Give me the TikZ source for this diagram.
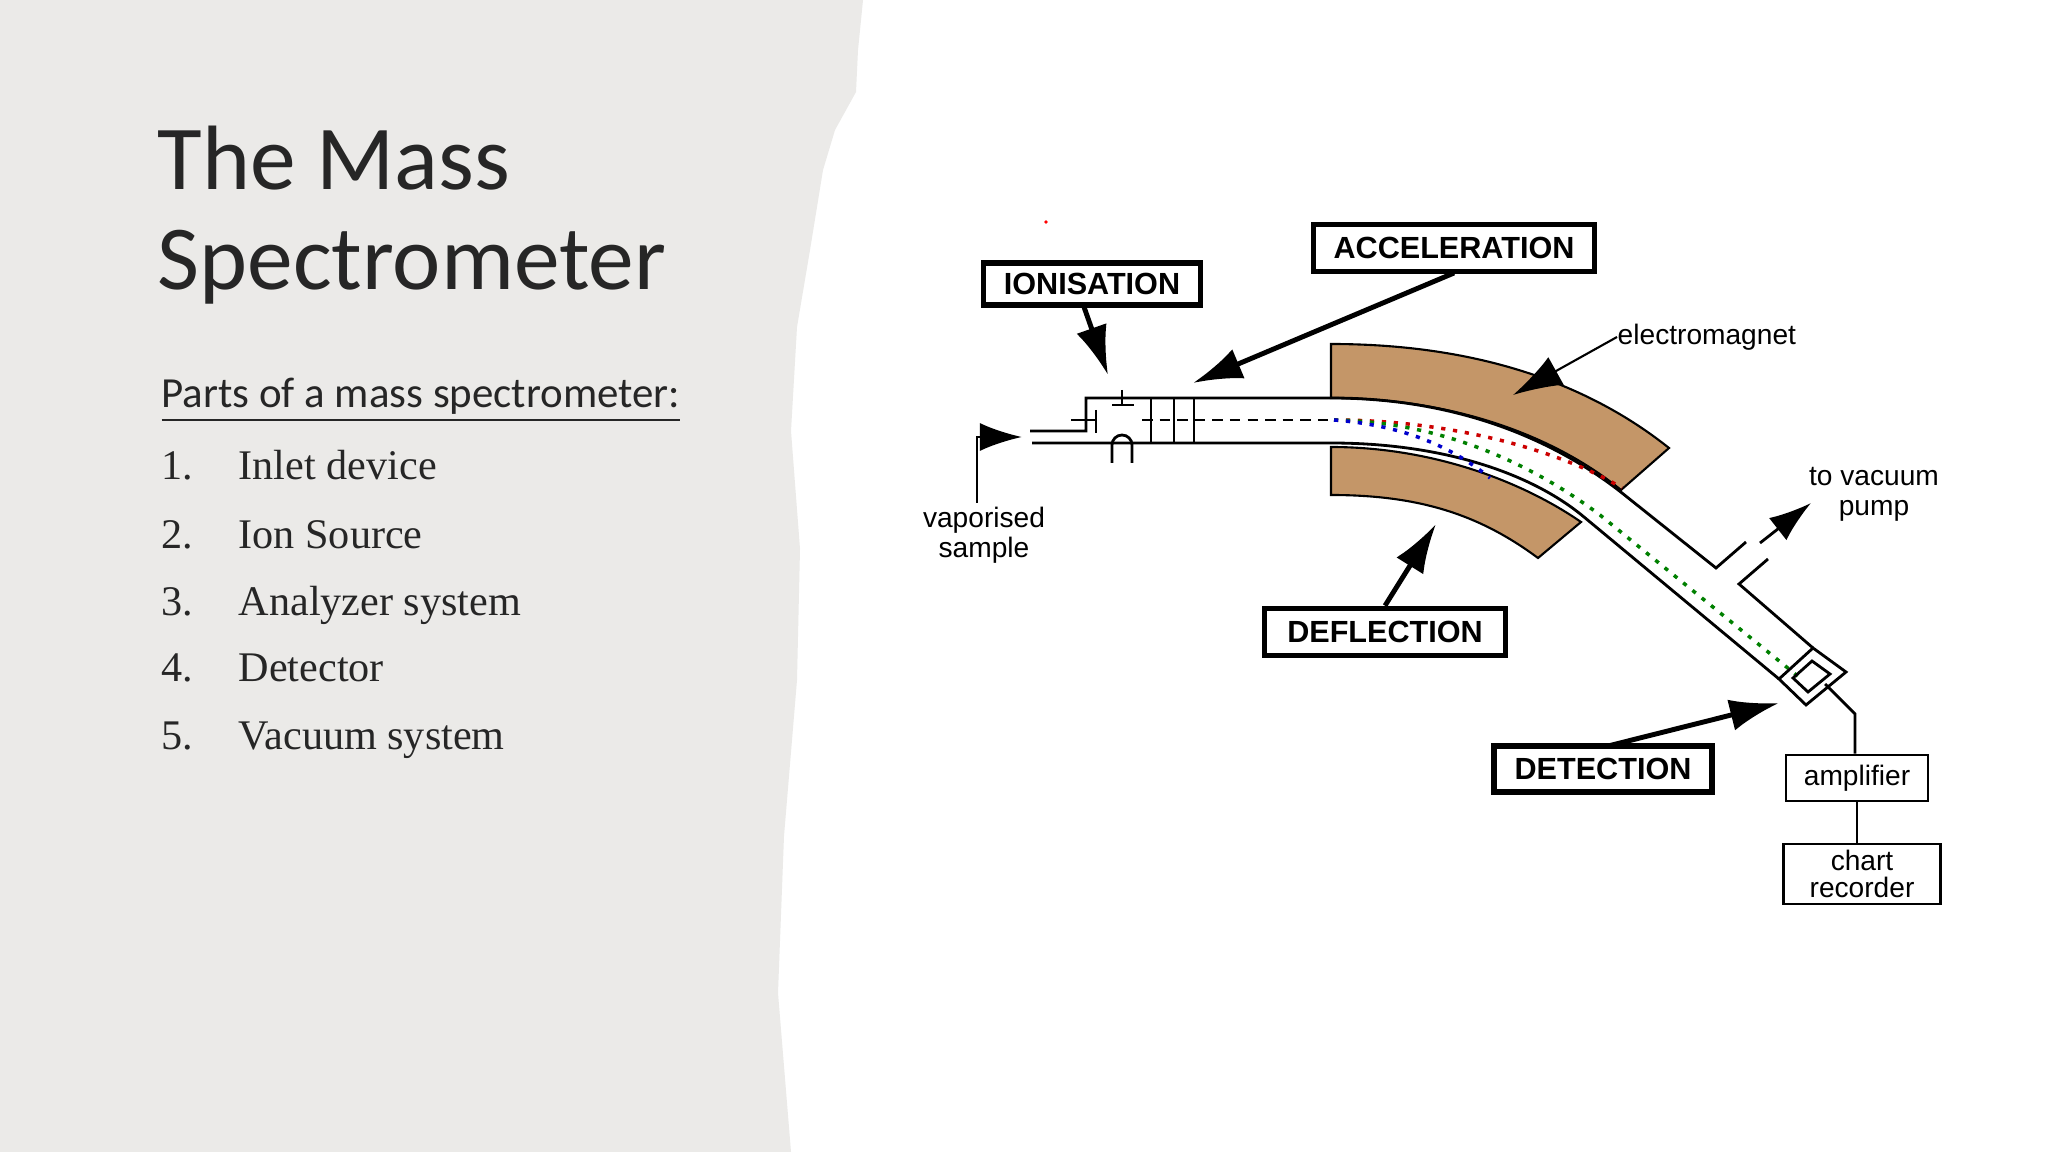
\documentclass[tikz,border=0pt]{standalone}
\usepackage{fontspec}
\setmainfont{Liberation Sans}
\newfontfamily\titlefont{Carlito}
\newfontfamily\listfont{Liberation Serif}
\usetikzlibrary{arrows.meta}
\definecolor{panel}{HTML}{EBEAE8}
\definecolor{magnet}{HTML}{C49668}
\definecolor{ink}{HTML}{262626}
\tikzset{
 lbox/.style={draw,line width=1.6pt,inner sep=0pt,font=\fontsize{8.7}{10}\selectfont\bfseries},
 sbox/.style={draw,line width=0.8pt,inner sep=0pt,font=\fontsize{8}{9.5}\selectfont,align=center},
 plain/.style={font=\fontsize{8}{9.5}\selectfont,align=center,inner sep=0pt},
 bigarrow/.style={line width=1.4pt,-{Latex[length=14pt,width=9pt]}},
 wall/.style={line width=0.8pt},
 beam/.style={dash pattern=on 1.2pt off 2.2pt,line width=1pt},
 titletext/.style={font=\titlefont\fontsize{26}{30}\selectfont,text=ink,anchor=base west,inner sep=0pt},
 itemtext/.style={font=\listfont\fontsize{12}{14}\selectfont,text=ink,anchor=base west,inner sep=0pt}
}
\begin{document}
\begin{tikzpicture}[x=0.01cm,y=-0.01cm]
\useasboundingbox (0,0) rectangle (2048,1152);
\fill[white] (0,0) rectangle (2048,1152);
\fill[panel] (0,0) -- (863,0) -- (858,50) -- (856,92) -- (835,130) -- (823,170) -- (810,250) -- (797,327) -- (791,431) -- (800,549) -- (797,680) -- (784,836) -- (778,993) -- (791,1152) -- (0,1152) -- cycle;
% left texts
\node[titletext] (t1) at (157,190) {The Mass};
\node[titletext] (t2) at (157,290) {Spectrometer};
\node[titletext,font=\titlefont\fontsize{12.2}{14}\selectfont] (parts) at (161,408) {\underline{Parts of a mass spectrometer:}};
\foreach \n/\y/\t in {1/480/Inlet device,2/548/Ion Source,3/616/Analyzer system,4/682/Detector,5/749/Vacuum system}{
 \node[itemtext] (n\n) at (161,\y) {\n.};
 \node[itemtext] (i\n) at (238,\y) {\t};
}
% magnets
\fill[magnet,draw=black,line width=0.6pt] (1331,344) .. controls (1480,344) and (1590,385) .. (1669,448) -- (1621,490) .. controls (1560,440) and (1460,398) .. (1331,398) -- cycle;
\fill[magnet,draw=black,line width=0.6pt] (1331,447) .. controls (1430,447) and (1520,480) .. (1581,522) -- (1538,558) .. controls (1480,515) and (1420,495) .. (1331,495) -- cycle;
% tube walls
\draw[wall] (1030,431) -- (1086,431) -- (1086,398) -- (1331,398) .. controls (1480,398) and (1575,456) .. (1622,493) -- (1716,568) -- (1746,542);
\draw[wall] (1768,559) -- (1739,584) -- (1813,648);
\draw[wall] (1032,443) -- (1331,443) .. controls (1440,443) and (1530,472) .. (1584,517) -- (1779,679);
% electrodes
\draw[wall] (1096,410) -- (1096,433) (1071,420) -- (1096,420);
\draw[wall] (1122,390) -- (1122,405) (1112,405) -- (1134,405);
\draw[wall] (1112,463) -- (1112,445) arc[start angle=180,end angle=360,radius=10] -- (1132,463);
\foreach \x in {1151,1174,1194}{\draw[wall] (\x,398) -- (\x,443);}
% beams
\draw[densely dashed,line width=0.8pt] (1142,420) -- (1334,420);
\draw[beam,red!80!black] (1334,420) .. controls (1450,420) and (1560,450) .. (1622,488);
\draw[beam,green!50!black] (1334,420) .. controls (1450,422) and (1540,470) .. (1600,515) -- (1800,678);
\draw[beam,blue!80!black] (1334,420) .. controls (1400,425) and (1450,445) .. (1490,478);
% detector
\draw[wall] (1779,679) -- (1813,648) -- (1846,672) -- (1806,705) -- cycle;
\draw[wall] (1793,678) -- (1812,661) -- (1830,674) -- (1808,692) -- cycle;
\coordinate (w1) at (1825,684);
\coordinate (w2) at (1855,714);
% boxes
\node[lbox,minimum width=2.17cm,minimum height=0.42cm] (ion) at (1092,284) {IONISATION};
\node[lbox,minimum width=2.81cm,minimum height=0.47cm] (acc) at (1454,248) {ACCELERATION};
\node[lbox,minimum width=2.41cm,minimum height=0.47cm] (def) at (1385,632) {DEFLECTION};
\node[lbox,minimum width=2.18cm,minimum height=0.46cm] (det) at (1603,769) {DETECTION};
\node[sbox,minimum width=1.42cm,minimum height=0.46cm] (amp) at (1857,778) {amplifier};
\node[sbox,minimum width=1.57cm,minimum height=0.60cm] (chart) at (1862,874) {chart\\[-2pt]recorder};
\node[plain,anchor=west] (em) at (1617,337) {electromagnet};
\node[plain] (vac) at (1874,494) {to vacuum\\[-1pt]pump};
\node[plain] (vap) at (984,535) {vaporised\\[-1pt]sample};
% connectors
\draw[wall] (w1) -- (w2) -- (w2 |- amp.north);
\draw[wall] (amp.south) -- (amp.south |- chart.north);
\coordinate (ionT) at (1108,375);
\coordinate (accT) at (1193,383);
\coordinate (defT) at (1436,524);
\coordinate (detT) at (1779,703);
\coordinate (emT) at (1513,395);
\coordinate (vacS) at (1760,543);
\coordinate (vacT) at (1811,503);
\coordinate (vapS) at (977,503);
\coordinate (vapT) at (1022,437);
\draw[bigarrow] (1084,307) -- (ionT);
\draw[bigarrow] (1454,273) -- (accT);
\draw[bigarrow] (def.north) -- (defT);
\draw[bigarrow] (1608,746) -- (detT);
\draw[line width=0.6pt,-{Latex[length=14pt,width=9pt]}] (em.west) -- (emT);
\draw[line width=0.8pt,-{Latex[length=12pt,width=8pt]}] (vacS) -- (vacT);
\draw[line width=0.8pt,-{Latex[length=12pt,width=8pt]}] (vapS) -- (vapS |- vapT) -- (vapT);
\fill[red] (1046,222) circle[radius=1.8];
\end{tikzpicture}
\end{document}
